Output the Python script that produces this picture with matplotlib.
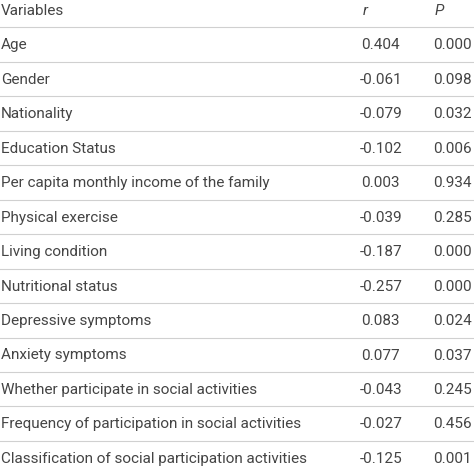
import matplotlib
matplotlib.use("Agg")
import matplotlib.pyplot as plt

header = ["Variables", "r", "P"]
variables = ["Age", "Gender", "Nationality", "Education Status",
             "Per capita monthly income of the family", "Physical exercise",
             "Living condition", "Nutritional status", "Depressive symptoms",
             "Anxiety symptoms", "Whether participate in social activities",
             "Frequency of participation in social activities",
             "Classification of social participation activities"]
r_vals = ["0.404", "-0.061", "-0.079", "-0.102", "0.003", "-0.039", "-0.187",
          "-0.257", "0.083", "0.077", "-0.043", "-0.027", "-0.125"]
p_vals = ["0.000", "0.098", "0.032", "0.006", "0.934", "0.285", "0.000",
          "0.000", "0.024", "0.037", "0.245", "0.456", "0.001"]

fig = plt.figure(figsize=(4.74, 4.69), dpi=100)
ax = fig.add_axes([0, 0, 1, 1])
ax.set_xlim(0, 474)
ax.set_ylim(469, 0)
ax.axis("off")

col = "#444444"
fs = 11
row_h = 34.45
y0 = 11
xs = [1, 360, 433]

ax.text(xs[0], y0, header[0], fontsize=fs, color=col, va="center", family="Roboto")
ax.text(xs[1] + 3, y0, header[1], fontsize=fs, color=col, va="center", style="italic", family="Roboto")
ax.text(xs[2] + 2, y0, header[2], fontsize=fs, color=col, va="center", style="italic", family="Roboto")
ax.axhline(27.5, color="#d0d0d0", lw=0.8)

for i, (v, r, p) in enumerate(zip(variables, r_vals, p_vals)):
    y = y0 + (i + 1) * row_h
    ax.text(xs[0], y, v, fontsize=fs, color=col, va="center", family="Roboto")
    rx = xs[1] if r.startswith("-") else xs[1] + 1
    ax.text(rx, y, r, fontsize=fs, color=col, va="center", family="Roboto")
    ax.text(xs[2], y, p, fontsize=fs, color=col, va="center", family="Roboto")
    ax.axhline(27.5 + (i + 1) * row_h, color="#d0d0d0", lw=0.8)

fig.savefig("out.png", dpi=100)
